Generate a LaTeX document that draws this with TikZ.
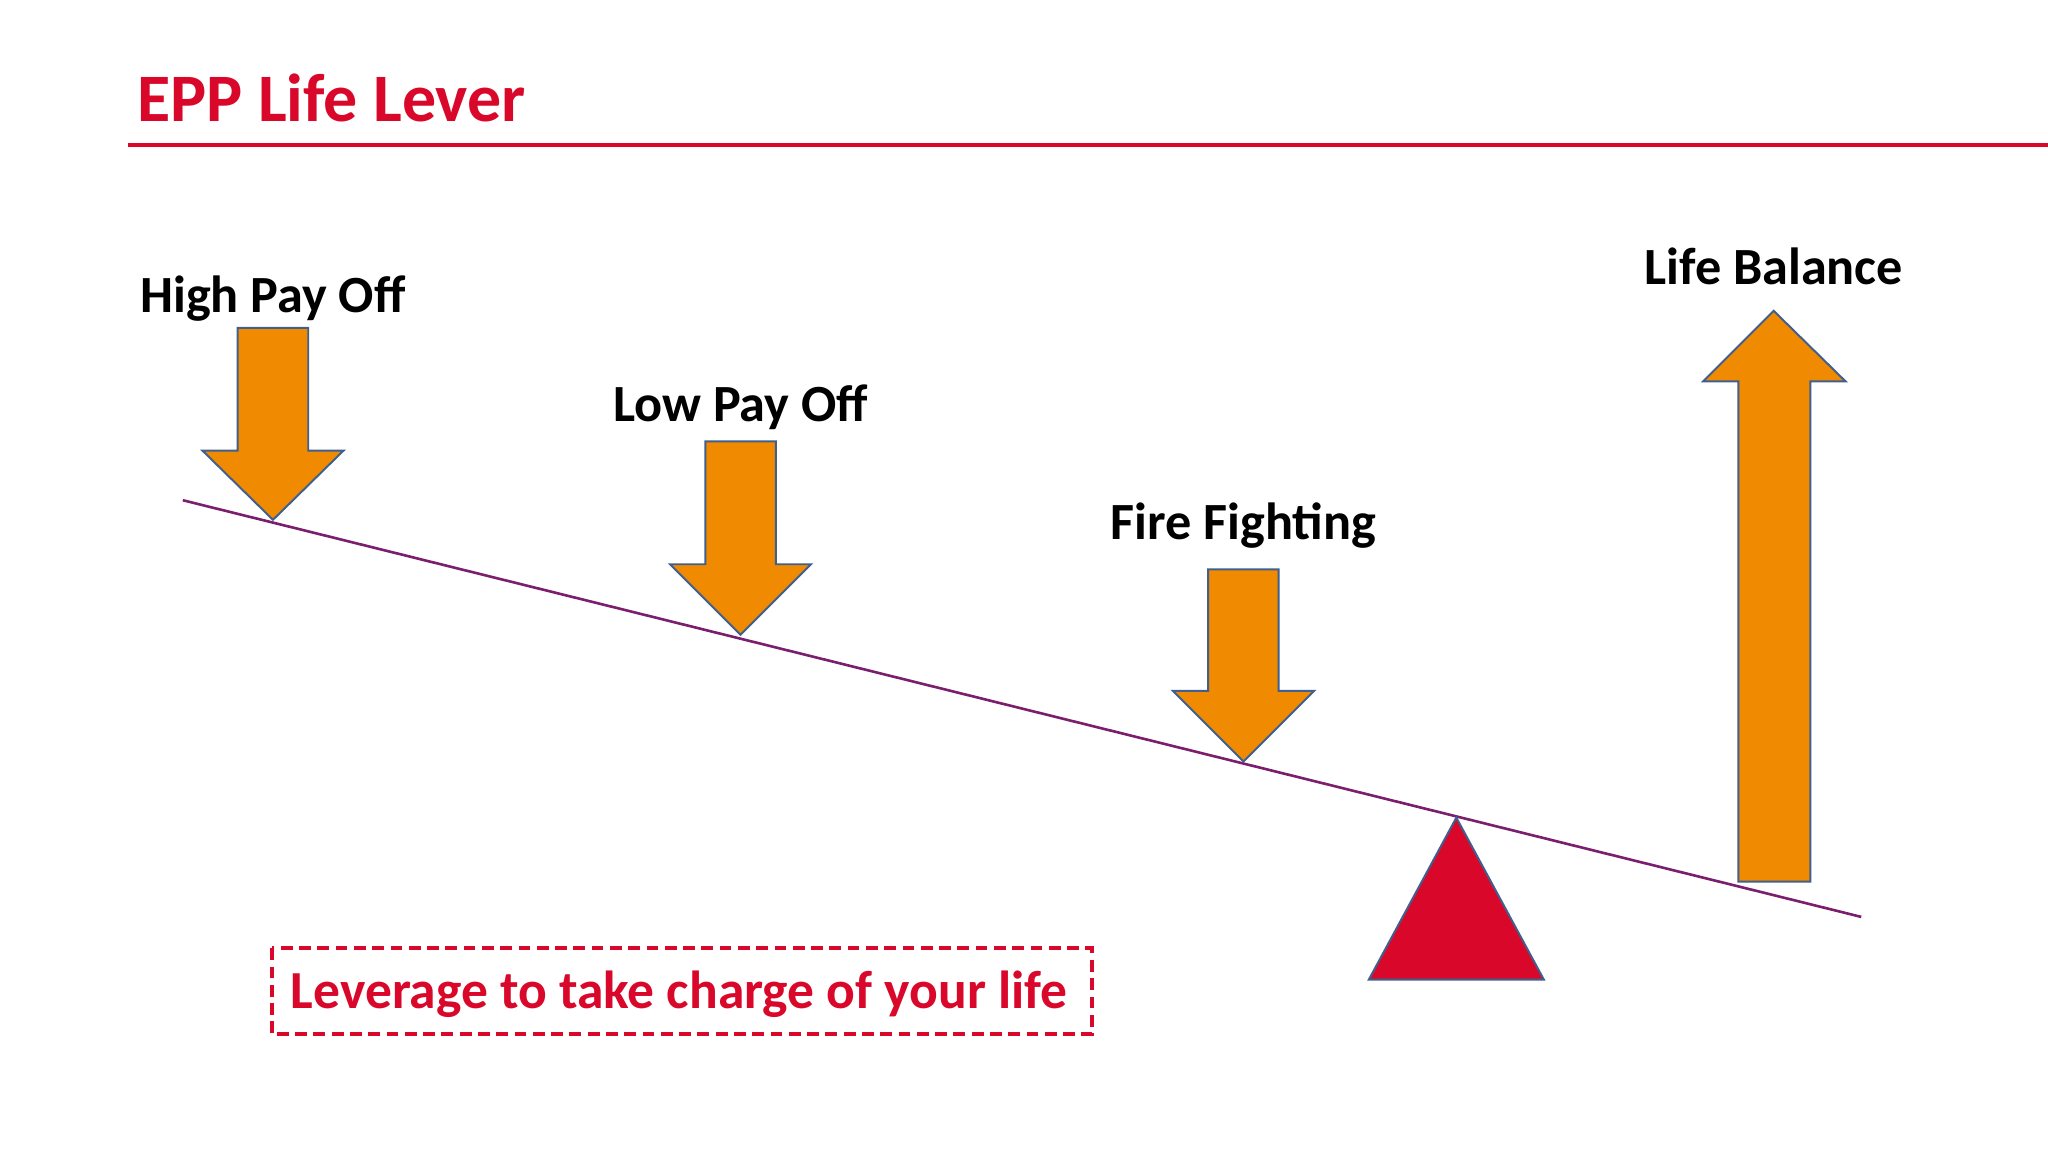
\documentclass[tikz,border=0pt]{standalone}
\usepackage{fontspec}
\setmainfont{Carlito}
\definecolor{eppred}{HTML}{D9082B}
\definecolor{orng}{HTML}{F08A00}
\definecolor{edge}{HTML}{3F5F8F}
\definecolor{lever}{HTML}{7B1E6E}
\begin{document}
\begin{tikzpicture}[x=1pt,y=-1pt,
  arr/.style={fill=orng,draw=edge,line width=1.5pt,line join=miter},
  lbl/.style={font=\fontsize{40}{46}\selectfont\bfseries,inner sep=0pt}]
\useasboundingbox (0,0) rectangle (1568,882);
\node[anchor=base west,inner sep=0pt,text=eppred,font=\fontsize{52}{58}\selectfont\bfseries] (title) at (105,93) {EPP Life Lever};
\draw[eppred,line width=3pt] (98,111) coordinate (r1) -- (1568,111) coordinate (r2);
\draw[lever,line width=2pt] (140,383) coordinate (l1) -- (1425,702) coordinate (l2);
% down arrows
\foreach \cx/\top/\hy/\tip in {209/251/345/398, 567/338/432/486, 952/436/529/583}{
  \draw[arr] (\cx-27,\top) -- (\cx+27,\top) -- (\cx+27,\hy) -- (\cx+54,\hy) -- (\cx,\tip) -- (\cx-54,\hy) -- (\cx-27,\hy) -- cycle;
}
% up arrow
\draw[arr] (1331,675) -- (1386,675) -- (1386,292) -- (1413,292) -- (1358,238) -- (1304,292) -- (1331,292) -- cycle;
% fulcrum
\draw[fill=eppred,draw=edge,line width=1.5pt] (1115,626) -- (1182,750) -- (1048,750) -- cycle;
% labels
\node[lbl,anchor=base] (hp) at (209,239) {High Pay Off};
\node[lbl,anchor=base] (lp) at (567,323) {Low Pay Off};
\node[lbl,anchor=base] (ff) at (952,413) {Fire Fighting};
\node[lbl,anchor=base] (lb) at (1358,218) {Life Balance};
% box
\draw[eppred,line width=3pt,dash pattern=on 9pt off 5pt] (208,726) rectangle (836,792);
\node[anchor=base,inner sep=0pt,text=eppred,font=\fontsize{41}{46}\selectfont\bfseries] (lev) at (520,772) {Leverage to take charge of your life};
\end{tikzpicture}
\end{document}
